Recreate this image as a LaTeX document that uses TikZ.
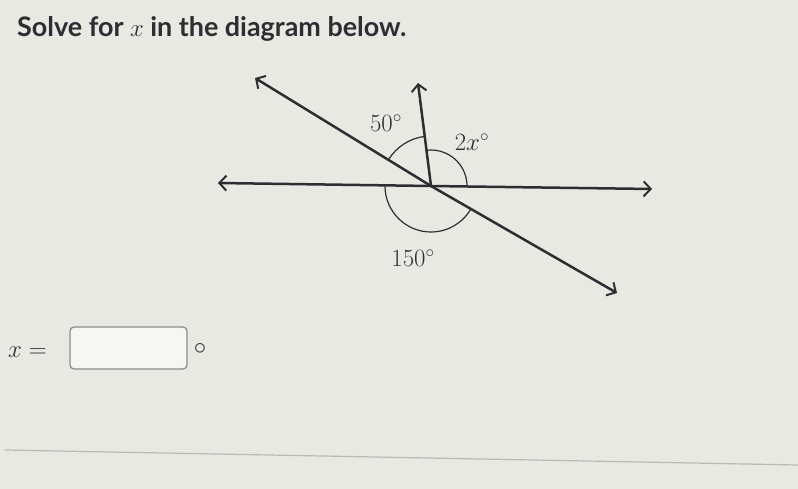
\documentclass[tikz,border=0pt]{standalone}
\usepackage{fontspec}
\setmainfont{Lato}
\usetikzlibrary{arrows.meta}
\definecolor{paper}{HTML}{E9E9E3}
\definecolor{ink}{HTML}{2C2E32}
\definecolor{rule}{HTML}{B9BAB6}
\begin{document}
\begin{tikzpicture}[x=1bp,y=1bp,line cap=round,
  ray/.style={draw=ink,line width=2.5bp,-{Straight Barb[length=7bp,width=15bp,line width=2bp]}},
  mark arc/.style={draw=ink,line width=1.2bp},
  deg/.style={text=ink,font=\fontsize{24}{24}\selectfont,inner sep=0pt}]
\fill[paper] (0,0) rectangle (798,-489);
\useasboundingbox (0,0) rectangle (798,-489);
% title
\node (title) [anchor=west,text=ink,inner sep=0pt,font=\fontsize{27}{27}\selectfont\bfseries]
  at (17,-29) {Solve for $x$ in the diagram below.};
% lines through O
\coordinate (O) at (431,-186);
\coordinate (west) at (218,-183);
\coordinate (east) at (652,-189);
\coordinate (nw) at (255,-78);
\coordinate (se) at (617,-293);
\coordinate (up) at (418,-83);
\draw[ray] (O) -- (west);
\draw[ray] (O) -- (east);
\draw[ray] (O) -- (nw);
\draw[ray] (O) -- (se);
\draw[ray] (O) -- (up);
% angle marks
\draw[mark arc] (O) ++(148.5:50) arc[start angle=148.5,end angle=97.2,radius=50];
\draw[mark arc] (O) ++(97.2:36) arc[start angle=97.2,end angle=-0.8,radius=36];
\draw[mark arc] (O) ++(180.8:46) arc[start angle=180.8,end angle=330.1,radius=46];
\node (a) [deg] at (386,-123) {$50^\circ$};
\node (b) [deg] at (472,-142) {$2x^\circ$};
\node (c) [deg] at (413,-258) {$150^\circ$};
% answer
\node (eq) [anchor=west,text=ink,inner sep=0pt,font=\fontsize{36}{36}\selectfont] at (8,-352) {$x=$};
\draw[draw=gray!90,fill=white!60!paper,line width=1.3bp,rounded corners=4bp] (70,-327) rectangle (187,-369);
\node (unit) [text=ink,inner sep=0pt,font=\fontsize{28}{28}\selectfont] at (200,-349) {$\circ$};
\draw[rule,line width=1.2bp] (5,-450) -- (798,-465);
\end{tikzpicture}
\end{document}
